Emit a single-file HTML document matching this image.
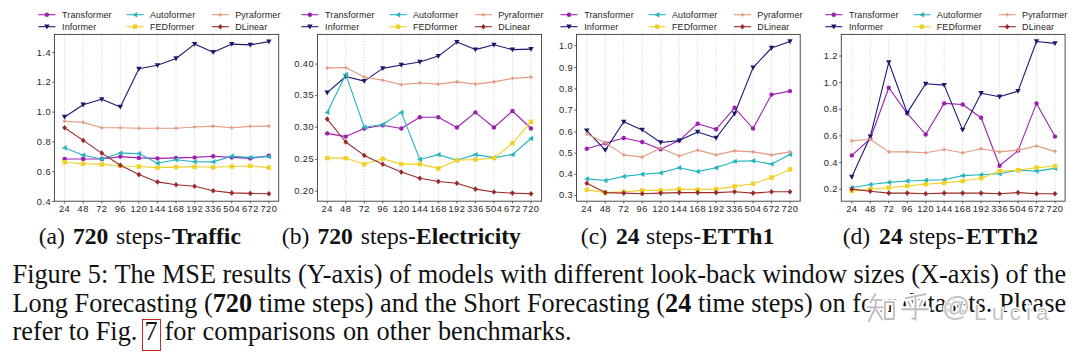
<!DOCTYPE html>
<html><head><meta charset="utf-8">
<style>
html,body{margin:0;padding:0;background:#fff;}
body{width:1077px;height:353px;overflow:hidden;position:relative;}
svg{position:absolute;left:0;top:0;}
.tk{font-family:"Liberation Sans", sans-serif;font-size:9.3px;letter-spacing:0.45px;fill:#262626;}
.lg{font-family:"Liberation Sans", sans-serif;font-size:9px;letter-spacing:0.08px;fill:#262626;}
.sc{font-family:"Liberation Serif",serif;font-size:23.6px;fill:#111;}
.sc.b{font-weight:bold;}
.ln{position:absolute;left:12.5px;width:1053.7px;font-family:"Liberation Serif",serif;font-size:26.3px;line-height:28.9px;height:28.9px;color:#111;white-space:nowrap;}
.j{text-align:justify;text-align-last:justify;white-space:normal;}
.ref{position:absolute;left:141.9px;top:318.9px;width:19.2px;height:32.3px;box-sizing:border-box;border:1.2px solid #d02828;}
</style></head><body>
<svg width="1077" height="353" viewBox="0 0 1077 353">
<line x1="64.60" y1="34.4" x2="64.60" y2="201.2" stroke="#dcdcdc" stroke-width="0.8" stroke-dasharray="2,1.2"/>
<line x1="83.17" y1="34.4" x2="83.17" y2="201.2" stroke="#dcdcdc" stroke-width="0.8" stroke-dasharray="2,1.2"/>
<line x1="101.75" y1="34.4" x2="101.75" y2="201.2" stroke="#dcdcdc" stroke-width="0.8" stroke-dasharray="2,1.2"/>
<line x1="120.32" y1="34.4" x2="120.32" y2="201.2" stroke="#dcdcdc" stroke-width="0.8" stroke-dasharray="2,1.2"/>
<line x1="138.89" y1="34.4" x2="138.89" y2="201.2" stroke="#dcdcdc" stroke-width="0.8" stroke-dasharray="2,1.2"/>
<line x1="157.46" y1="34.4" x2="157.46" y2="201.2" stroke="#dcdcdc" stroke-width="0.8" stroke-dasharray="2,1.2"/>
<line x1="176.04" y1="34.4" x2="176.04" y2="201.2" stroke="#dcdcdc" stroke-width="0.8" stroke-dasharray="2,1.2"/>
<line x1="194.61" y1="34.4" x2="194.61" y2="201.2" stroke="#dcdcdc" stroke-width="0.8" stroke-dasharray="2,1.2"/>
<line x1="213.18" y1="34.4" x2="213.18" y2="201.2" stroke="#dcdcdc" stroke-width="0.8" stroke-dasharray="2,1.2"/>
<line x1="231.75" y1="34.4" x2="231.75" y2="201.2" stroke="#dcdcdc" stroke-width="0.8" stroke-dasharray="2,1.2"/>
<line x1="250.33" y1="34.4" x2="250.33" y2="201.2" stroke="#dcdcdc" stroke-width="0.8" stroke-dasharray="2,1.2"/>
<line x1="268.90" y1="34.4" x2="268.90" y2="201.2" stroke="#dcdcdc" stroke-width="0.8" stroke-dasharray="2,1.2"/>
<polyline points="64.60,159.00 83.17,159.00 101.75,159.00 120.32,156.60 138.89,157.90 157.46,158.40 176.04,157.90 194.61,157.40 213.18,156.30 231.75,157.40 250.33,158.40 268.90,155.80" fill="none" stroke="#9c1fb0" stroke-width="1.1" stroke-linejoin="round"/>
<circle cx="64.60" cy="159.00" r="2.20" fill="#9c1fb0"/>
<circle cx="83.17" cy="159.00" r="2.20" fill="#9c1fb0"/>
<circle cx="101.75" cy="159.00" r="2.20" fill="#9c1fb0"/>
<circle cx="120.32" cy="156.60" r="2.20" fill="#9c1fb0"/>
<circle cx="138.89" cy="157.90" r="2.20" fill="#9c1fb0"/>
<circle cx="157.46" cy="158.40" r="2.20" fill="#9c1fb0"/>
<circle cx="176.04" cy="157.90" r="2.20" fill="#9c1fb0"/>
<circle cx="194.61" cy="157.40" r="2.20" fill="#9c1fb0"/>
<circle cx="213.18" cy="156.30" r="2.20" fill="#9c1fb0"/>
<circle cx="231.75" cy="157.40" r="2.20" fill="#9c1fb0"/>
<circle cx="250.33" cy="158.40" r="2.20" fill="#9c1fb0"/>
<circle cx="268.90" cy="155.80" r="2.20" fill="#9c1fb0"/>
<polyline points="64.60,117.00 83.17,104.70 101.75,99.30 120.32,106.90 138.89,68.80 157.46,65.30 176.04,58.50 194.61,44.10 213.18,52.20 231.75,44.10 250.33,44.90 268.90,41.60" fill="none" stroke="#191970" stroke-width="1.1" stroke-linejoin="round"/>
<path d="M61.90,114.84L67.30,114.84L64.60,119.70Z" fill="#191970"/>
<path d="M80.47,102.54L85.87,102.54L83.17,107.40Z" fill="#191970"/>
<path d="M99.05,97.14L104.45,97.14L101.75,102.00Z" fill="#191970"/>
<path d="M117.62,104.74L123.02,104.74L120.32,109.60Z" fill="#191970"/>
<path d="M136.19,66.64L141.59,66.64L138.89,71.50Z" fill="#191970"/>
<path d="M154.76,63.14L160.16,63.14L157.46,68.00Z" fill="#191970"/>
<path d="M173.34,56.34L178.74,56.34L176.04,61.20Z" fill="#191970"/>
<path d="M191.91,41.94L197.31,41.94L194.61,46.80Z" fill="#191970"/>
<path d="M210.48,50.04L215.88,50.04L213.18,54.90Z" fill="#191970"/>
<path d="M229.05,41.94L234.45,41.94L231.75,46.80Z" fill="#191970"/>
<path d="M247.63,42.74L253.03,42.74L250.33,47.60Z" fill="#191970"/>
<path d="M266.20,39.44L271.60,39.44L268.90,44.30Z" fill="#191970"/>
<polyline points="64.60,147.70 83.17,155.20 101.75,159.00 120.32,153.10 138.89,153.60 157.46,163.30 176.04,159.80 194.61,161.70 213.18,161.90 231.75,156.30 250.33,157.40 268.90,156.60" fill="none" stroke="#24b3bf" stroke-width="1.1" stroke-linejoin="round"/>
<path d="M61.90,147.70L66.76,145.00L66.76,150.40Z" fill="#24b3bf"/>
<path d="M80.47,155.20L85.33,152.50L85.33,157.90Z" fill="#24b3bf"/>
<path d="M99.05,159.00L103.91,156.30L103.91,161.70Z" fill="#24b3bf"/>
<path d="M117.62,153.10L122.48,150.40L122.48,155.80Z" fill="#24b3bf"/>
<path d="M136.19,153.60L141.05,150.90L141.05,156.30Z" fill="#24b3bf"/>
<path d="M154.76,163.30L159.62,160.60L159.62,166.00Z" fill="#24b3bf"/>
<path d="M173.34,159.80L178.20,157.10L178.20,162.50Z" fill="#24b3bf"/>
<path d="M191.91,161.70L196.77,159.00L196.77,164.40Z" fill="#24b3bf"/>
<path d="M210.48,161.90L215.34,159.20L215.34,164.60Z" fill="#24b3bf"/>
<path d="M229.05,156.30L233.91,153.60L233.91,159.00Z" fill="#24b3bf"/>
<path d="M247.63,157.40L252.49,154.70L252.49,160.10Z" fill="#24b3bf"/>
<path d="M266.20,156.60L271.06,153.90L271.06,159.30Z" fill="#24b3bf"/>
<polyline points="64.60,162.20 83.17,163.80 101.75,164.40 120.32,166.00 138.89,166.50 157.46,167.60 176.04,167.10 194.61,166.80 213.18,167.30 231.75,166.50 250.33,166.00 268.90,167.60" fill="none" stroke="#f2d024" stroke-width="1.1" stroke-linejoin="round"/>
<rect x="62.40" y="160.00" width="4.40" height="4.40" fill="#f2d024"/>
<rect x="80.97" y="161.60" width="4.40" height="4.40" fill="#f2d024"/>
<rect x="99.55" y="162.20" width="4.40" height="4.40" fill="#f2d024"/>
<rect x="118.12" y="163.80" width="4.40" height="4.40" fill="#f2d024"/>
<rect x="136.69" y="164.30" width="4.40" height="4.40" fill="#f2d024"/>
<rect x="155.26" y="165.40" width="4.40" height="4.40" fill="#f2d024"/>
<rect x="173.84" y="164.90" width="4.40" height="4.40" fill="#f2d024"/>
<rect x="192.41" y="164.60" width="4.40" height="4.40" fill="#f2d024"/>
<rect x="210.98" y="165.10" width="4.40" height="4.40" fill="#f2d024"/>
<rect x="229.55" y="164.30" width="4.40" height="4.40" fill="#f2d024"/>
<rect x="248.13" y="163.80" width="4.40" height="4.40" fill="#f2d024"/>
<rect x="266.70" y="165.40" width="4.40" height="4.40" fill="#f2d024"/>
<polyline points="64.60,121.30 83.17,122.40 101.75,127.80 120.32,127.80 138.89,128.30 157.46,128.30 176.04,128.30 194.61,127.00 213.18,126.10 231.75,127.80 250.33,126.40 268.90,126.10" fill="none" stroke="#e39a80" stroke-width="1.1" stroke-linejoin="round"/>
<path d="M62.80,121.30H66.40M64.60,119.50V123.10" stroke="#e39a80" stroke-width="1.4"/>
<path d="M81.37,122.40H84.97M83.17,120.60V124.20" stroke="#e39a80" stroke-width="1.4"/>
<path d="M99.95,127.80H103.55M101.75,126.00V129.60" stroke="#e39a80" stroke-width="1.4"/>
<path d="M118.52,127.80H122.12M120.32,126.00V129.60" stroke="#e39a80" stroke-width="1.4"/>
<path d="M137.09,128.30H140.69M138.89,126.50V130.10" stroke="#e39a80" stroke-width="1.4"/>
<path d="M155.66,128.30H159.26M157.46,126.50V130.10" stroke="#e39a80" stroke-width="1.4"/>
<path d="M174.24,128.30H177.84M176.04,126.50V130.10" stroke="#e39a80" stroke-width="1.4"/>
<path d="M192.81,127.00H196.41M194.61,125.20V128.80" stroke="#e39a80" stroke-width="1.4"/>
<path d="M211.38,126.10H214.98M213.18,124.30V127.90" stroke="#e39a80" stroke-width="1.4"/>
<path d="M229.95,127.80H233.55M231.75,126.00V129.60" stroke="#e39a80" stroke-width="1.4"/>
<path d="M248.53,126.40H252.13M250.33,124.60V128.20" stroke="#e39a80" stroke-width="1.4"/>
<path d="M267.10,126.10H270.70M268.90,124.30V127.90" stroke="#e39a80" stroke-width="1.4"/>
<polyline points="64.60,127.80 83.17,140.40 101.75,153.10 120.32,165.20 138.89,174.60 157.46,181.90 176.04,184.80 194.61,186.20 213.18,190.70 231.75,192.90 250.33,193.40 268.90,193.70" fill="none" stroke="#9a2a2a" stroke-width="1.1" stroke-linejoin="round"/>
<path d="M64.60,125.00L66.98,127.80L64.60,130.60L62.22,127.80Z" fill="#9a2a2a"/>
<path d="M83.17,137.60L85.55,140.40L83.17,143.20L80.79,140.40Z" fill="#9a2a2a"/>
<path d="M101.75,150.30L104.13,153.10L101.75,155.90L99.37,153.10Z" fill="#9a2a2a"/>
<path d="M120.32,162.40L122.70,165.20L120.32,168.00L117.94,165.20Z" fill="#9a2a2a"/>
<path d="M138.89,171.80L141.27,174.60L138.89,177.40L136.51,174.60Z" fill="#9a2a2a"/>
<path d="M157.46,179.10L159.84,181.90L157.46,184.70L155.08,181.90Z" fill="#9a2a2a"/>
<path d="M176.04,182.00L178.42,184.80L176.04,187.60L173.66,184.80Z" fill="#9a2a2a"/>
<path d="M194.61,183.40L196.99,186.20L194.61,189.00L192.23,186.20Z" fill="#9a2a2a"/>
<path d="M213.18,187.90L215.56,190.70L213.18,193.50L210.80,190.70Z" fill="#9a2a2a"/>
<path d="M231.75,190.10L234.13,192.90L231.75,195.70L229.37,192.90Z" fill="#9a2a2a"/>
<path d="M250.33,190.60L252.71,193.40L250.33,196.20L247.95,193.40Z" fill="#9a2a2a"/>
<path d="M268.90,190.90L271.28,193.70L268.90,196.50L266.52,193.70Z" fill="#9a2a2a"/>
<rect x="54.4" y="34.4" width="224.30" height="166.80" fill="none" stroke="#3a3a3a" stroke-width="0.9"/>
<line x1="64.60" y1="201.2" x2="64.60" y2="203.39999999999998" stroke="#3a3a3a" stroke-width="0.8"/>
<text x="64.60" y="211.80" text-anchor="middle" class="tk">24</text>
<line x1="83.17" y1="201.2" x2="83.17" y2="203.39999999999998" stroke="#3a3a3a" stroke-width="0.8"/>
<text x="83.17" y="211.80" text-anchor="middle" class="tk">48</text>
<line x1="101.75" y1="201.2" x2="101.75" y2="203.39999999999998" stroke="#3a3a3a" stroke-width="0.8"/>
<text x="101.75" y="211.80" text-anchor="middle" class="tk">72</text>
<line x1="120.32" y1="201.2" x2="120.32" y2="203.39999999999998" stroke="#3a3a3a" stroke-width="0.8"/>
<text x="120.32" y="211.80" text-anchor="middle" class="tk">96</text>
<line x1="138.89" y1="201.2" x2="138.89" y2="203.39999999999998" stroke="#3a3a3a" stroke-width="0.8"/>
<text x="138.89" y="211.80" text-anchor="middle" class="tk">120</text>
<line x1="157.46" y1="201.2" x2="157.46" y2="203.39999999999998" stroke="#3a3a3a" stroke-width="0.8"/>
<text x="157.46" y="211.80" text-anchor="middle" class="tk">144</text>
<line x1="176.04" y1="201.2" x2="176.04" y2="203.39999999999998" stroke="#3a3a3a" stroke-width="0.8"/>
<text x="176.04" y="211.80" text-anchor="middle" class="tk">168</text>
<line x1="194.61" y1="201.2" x2="194.61" y2="203.39999999999998" stroke="#3a3a3a" stroke-width="0.8"/>
<text x="194.61" y="211.80" text-anchor="middle" class="tk">192</text>
<line x1="213.18" y1="201.2" x2="213.18" y2="203.39999999999998" stroke="#3a3a3a" stroke-width="0.8"/>
<text x="213.18" y="211.80" text-anchor="middle" class="tk">336</text>
<line x1="231.75" y1="201.2" x2="231.75" y2="203.39999999999998" stroke="#3a3a3a" stroke-width="0.8"/>
<text x="231.75" y="211.80" text-anchor="middle" class="tk">504</text>
<line x1="250.33" y1="201.2" x2="250.33" y2="203.39999999999998" stroke="#3a3a3a" stroke-width="0.8"/>
<text x="250.33" y="211.80" text-anchor="middle" class="tk">672</text>
<line x1="268.90" y1="201.2" x2="268.90" y2="203.39999999999998" stroke="#3a3a3a" stroke-width="0.8"/>
<text x="268.90" y="211.80" text-anchor="middle" class="tk">720</text>
<line x1="52.199999999999996" y1="201.5" x2="54.4" y2="201.5" stroke="#3a3a3a" stroke-width="0.8"/>
<text x="51.10" y="204.50" text-anchor="end" class="tk">0.4</text>
<line x1="52.199999999999996" y1="171.7" x2="54.4" y2="171.7" stroke="#3a3a3a" stroke-width="0.8"/>
<text x="51.10" y="174.70" text-anchor="end" class="tk">0.6</text>
<line x1="52.199999999999996" y1="141.9" x2="54.4" y2="141.9" stroke="#3a3a3a" stroke-width="0.8"/>
<text x="51.10" y="144.90" text-anchor="end" class="tk">0.8</text>
<line x1="52.199999999999996" y1="112.1" x2="54.4" y2="112.1" stroke="#3a3a3a" stroke-width="0.8"/>
<text x="51.10" y="115.10" text-anchor="end" class="tk">1.0</text>
<line x1="52.199999999999996" y1="82.3" x2="54.4" y2="82.3" stroke="#3a3a3a" stroke-width="0.8"/>
<text x="51.10" y="85.30" text-anchor="end" class="tk">1.2</text>
<line x1="52.199999999999996" y1="52.5" x2="54.4" y2="52.5" stroke="#3a3a3a" stroke-width="0.8"/>
<text x="51.10" y="55.50" text-anchor="end" class="tk">1.4</text>
<line x1="38.40" y1="14.7" x2="55.40" y2="14.7" stroke="#9c1fb0" stroke-width="1.1"/>
<circle cx="46.90" cy="14.70" r="2.20" fill="#9c1fb0"/>
<text x="62.10" y="17.70" class="lg">Transformer</text>
<line x1="126.60" y1="14.7" x2="143.60" y2="14.7" stroke="#24b3bf" stroke-width="1.1"/>
<path d="M132.40,14.70L137.26,12.00L137.26,17.40Z" fill="#24b3bf"/>
<text x="149.90" y="17.70" class="lg">Autoformer</text>
<line x1="211.80" y1="14.7" x2="228.90" y2="14.7" stroke="#e39a80" stroke-width="1.1"/>
<path d="M218.55,14.70H222.15M220.35,12.90V16.50" stroke="#e39a80" stroke-width="1.4"/>
<text x="235.20" y="17.70" class="lg">Pyraformer</text>
<line x1="38.40" y1="26.7" x2="55.40" y2="26.7" stroke="#191970" stroke-width="1.1"/>
<path d="M44.20,24.54L49.60,24.54L46.90,29.40Z" fill="#191970"/>
<text x="62.10" y="29.70" class="lg">Informer</text>
<line x1="126.60" y1="26.7" x2="143.60" y2="26.7" stroke="#f2d024" stroke-width="1.1"/>
<rect x="132.90" y="24.50" width="4.40" height="4.40" fill="#f2d024"/>
<text x="149.90" y="29.70" class="lg">FEDformer</text>
<line x1="211.80" y1="26.7" x2="228.90" y2="26.7" stroke="#9a2a2a" stroke-width="1.1"/>
<path d="M220.35,23.90L222.73,26.70L220.35,29.50L217.97,26.70Z" fill="#9a2a2a"/>
<text x="235.20" y="29.70" class="lg">DLinear</text>
<line x1="327.20" y1="34.4" x2="327.20" y2="201.2" stroke="#dcdcdc" stroke-width="0.8" stroke-dasharray="2,1.2"/>
<line x1="345.73" y1="34.4" x2="345.73" y2="201.2" stroke="#dcdcdc" stroke-width="0.8" stroke-dasharray="2,1.2"/>
<line x1="364.25" y1="34.4" x2="364.25" y2="201.2" stroke="#dcdcdc" stroke-width="0.8" stroke-dasharray="2,1.2"/>
<line x1="382.78" y1="34.4" x2="382.78" y2="201.2" stroke="#dcdcdc" stroke-width="0.8" stroke-dasharray="2,1.2"/>
<line x1="401.31" y1="34.4" x2="401.31" y2="201.2" stroke="#dcdcdc" stroke-width="0.8" stroke-dasharray="2,1.2"/>
<line x1="419.84" y1="34.4" x2="419.84" y2="201.2" stroke="#dcdcdc" stroke-width="0.8" stroke-dasharray="2,1.2"/>
<line x1="438.36" y1="34.4" x2="438.36" y2="201.2" stroke="#dcdcdc" stroke-width="0.8" stroke-dasharray="2,1.2"/>
<line x1="456.89" y1="34.4" x2="456.89" y2="201.2" stroke="#dcdcdc" stroke-width="0.8" stroke-dasharray="2,1.2"/>
<line x1="475.42" y1="34.4" x2="475.42" y2="201.2" stroke="#dcdcdc" stroke-width="0.8" stroke-dasharray="2,1.2"/>
<line x1="493.95" y1="34.4" x2="493.95" y2="201.2" stroke="#dcdcdc" stroke-width="0.8" stroke-dasharray="2,1.2"/>
<line x1="512.47" y1="34.4" x2="512.47" y2="201.2" stroke="#dcdcdc" stroke-width="0.8" stroke-dasharray="2,1.2"/>
<line x1="531.00" y1="34.4" x2="531.00" y2="201.2" stroke="#dcdcdc" stroke-width="0.8" stroke-dasharray="2,1.2"/>
<polyline points="327.20,133.40 345.73,136.60 364.25,128.50 382.78,125.30 401.31,128.50 419.84,117.20 438.36,117.20 456.89,127.50 475.42,112.40 493.95,127.50 512.47,111.00 531.00,128.50" fill="none" stroke="#9c1fb0" stroke-width="1.1" stroke-linejoin="round"/>
<circle cx="327.20" cy="133.40" r="2.20" fill="#9c1fb0"/>
<circle cx="345.73" cy="136.60" r="2.20" fill="#9c1fb0"/>
<circle cx="364.25" cy="128.50" r="2.20" fill="#9c1fb0"/>
<circle cx="382.78" cy="125.30" r="2.20" fill="#9c1fb0"/>
<circle cx="401.31" cy="128.50" r="2.20" fill="#9c1fb0"/>
<circle cx="419.84" cy="117.20" r="2.20" fill="#9c1fb0"/>
<circle cx="438.36" cy="117.20" r="2.20" fill="#9c1fb0"/>
<circle cx="456.89" cy="127.50" r="2.20" fill="#9c1fb0"/>
<circle cx="475.42" cy="112.40" r="2.20" fill="#9c1fb0"/>
<circle cx="493.95" cy="127.50" r="2.20" fill="#9c1fb0"/>
<circle cx="512.47" cy="111.00" r="2.20" fill="#9c1fb0"/>
<circle cx="531.00" cy="128.50" r="2.20" fill="#9c1fb0"/>
<polyline points="327.20,92.70 345.73,76.50 364.25,81.10 382.78,68.40 401.31,65.00 419.84,62.00 438.36,56.10 456.89,42.10 475.42,49.60 493.95,44.80 512.47,49.60 531.00,49.10" fill="none" stroke="#191970" stroke-width="1.1" stroke-linejoin="round"/>
<path d="M324.50,90.54L329.90,90.54L327.20,95.40Z" fill="#191970"/>
<path d="M343.03,74.34L348.43,74.34L345.73,79.20Z" fill="#191970"/>
<path d="M361.55,78.94L366.95,78.94L364.25,83.80Z" fill="#191970"/>
<path d="M380.08,66.24L385.48,66.24L382.78,71.10Z" fill="#191970"/>
<path d="M398.61,62.84L404.01,62.84L401.31,67.70Z" fill="#191970"/>
<path d="M417.14,59.84L422.54,59.84L419.84,64.70Z" fill="#191970"/>
<path d="M435.66,53.94L441.06,53.94L438.36,58.80Z" fill="#191970"/>
<path d="M454.19,39.94L459.59,39.94L456.89,44.80Z" fill="#191970"/>
<path d="M472.72,47.44L478.12,47.44L475.42,52.30Z" fill="#191970"/>
<path d="M491.25,42.64L496.65,42.64L493.95,47.50Z" fill="#191970"/>
<path d="M509.77,47.44L515.17,47.44L512.47,52.30Z" fill="#191970"/>
<path d="M528.30,46.94L533.70,46.94L531.00,51.80Z" fill="#191970"/>
<polyline points="327.20,112.40 345.73,74.40 364.25,127.20 382.78,124.50 401.31,112.40 419.84,159.50 438.36,154.60 456.89,160.30 475.42,154.60 493.95,157.60 512.47,154.60 531.00,138.50" fill="none" stroke="#24b3bf" stroke-width="1.1" stroke-linejoin="round"/>
<path d="M324.50,112.40L329.36,109.70L329.36,115.10Z" fill="#24b3bf"/>
<path d="M343.03,74.40L347.89,71.70L347.89,77.10Z" fill="#24b3bf"/>
<path d="M361.55,127.20L366.41,124.50L366.41,129.90Z" fill="#24b3bf"/>
<path d="M380.08,124.50L384.94,121.80L384.94,127.20Z" fill="#24b3bf"/>
<path d="M398.61,112.40L403.47,109.70L403.47,115.10Z" fill="#24b3bf"/>
<path d="M417.14,159.50L422.00,156.80L422.00,162.20Z" fill="#24b3bf"/>
<path d="M435.66,154.60L440.52,151.90L440.52,157.30Z" fill="#24b3bf"/>
<path d="M454.19,160.30L459.05,157.60L459.05,163.00Z" fill="#24b3bf"/>
<path d="M472.72,154.60L477.58,151.90L477.58,157.30Z" fill="#24b3bf"/>
<path d="M491.25,157.60L496.11,154.90L496.11,160.30Z" fill="#24b3bf"/>
<path d="M509.77,154.60L514.63,151.90L514.63,157.30Z" fill="#24b3bf"/>
<path d="M528.30,138.50L533.16,135.80L533.16,141.20Z" fill="#24b3bf"/>
<polyline points="327.20,158.10 345.73,158.10 364.25,164.30 382.78,158.70 401.31,164.10 419.84,164.10 438.36,168.40 456.89,160.30 475.42,159.50 493.95,158.10 512.47,143.30 531.00,121.80" fill="none" stroke="#f2d024" stroke-width="1.1" stroke-linejoin="round"/>
<rect x="325.00" y="155.90" width="4.40" height="4.40" fill="#f2d024"/>
<rect x="343.53" y="155.90" width="4.40" height="4.40" fill="#f2d024"/>
<rect x="362.05" y="162.10" width="4.40" height="4.40" fill="#f2d024"/>
<rect x="380.58" y="156.50" width="4.40" height="4.40" fill="#f2d024"/>
<rect x="399.11" y="161.90" width="4.40" height="4.40" fill="#f2d024"/>
<rect x="417.64" y="161.90" width="4.40" height="4.40" fill="#f2d024"/>
<rect x="436.16" y="166.20" width="4.40" height="4.40" fill="#f2d024"/>
<rect x="454.69" y="158.10" width="4.40" height="4.40" fill="#f2d024"/>
<rect x="473.22" y="157.30" width="4.40" height="4.40" fill="#f2d024"/>
<rect x="491.75" y="155.90" width="4.40" height="4.40" fill="#f2d024"/>
<rect x="510.27" y="141.10" width="4.40" height="4.40" fill="#f2d024"/>
<rect x="528.80" y="119.60" width="4.40" height="4.40" fill="#f2d024"/>
<polyline points="327.20,67.90 345.73,67.60 364.25,77.10 382.78,80.30 401.31,84.60 419.84,83.00 438.36,84.10 456.89,81.90 475.42,84.10 493.95,81.90 512.47,78.40 531.00,77.10" fill="none" stroke="#e39a80" stroke-width="1.1" stroke-linejoin="round"/>
<path d="M325.40,67.90H329.00M327.20,66.10V69.70" stroke="#e39a80" stroke-width="1.4"/>
<path d="M343.93,67.60H347.53M345.73,65.80V69.40" stroke="#e39a80" stroke-width="1.4"/>
<path d="M362.45,77.10H366.05M364.25,75.30V78.90" stroke="#e39a80" stroke-width="1.4"/>
<path d="M380.98,80.30H384.58M382.78,78.50V82.10" stroke="#e39a80" stroke-width="1.4"/>
<path d="M399.51,84.60H403.11M401.31,82.80V86.40" stroke="#e39a80" stroke-width="1.4"/>
<path d="M418.04,83.00H421.64M419.84,81.20V84.80" stroke="#e39a80" stroke-width="1.4"/>
<path d="M436.56,84.10H440.16M438.36,82.30V85.90" stroke="#e39a80" stroke-width="1.4"/>
<path d="M455.09,81.90H458.69M456.89,80.10V83.70" stroke="#e39a80" stroke-width="1.4"/>
<path d="M473.62,84.10H477.22M475.42,82.30V85.90" stroke="#e39a80" stroke-width="1.4"/>
<path d="M492.15,81.90H495.75M493.95,80.10V83.70" stroke="#e39a80" stroke-width="1.4"/>
<path d="M510.67,78.40H514.27M512.47,76.60V80.20" stroke="#e39a80" stroke-width="1.4"/>
<path d="M529.20,77.10H532.80M531.00,75.30V78.90" stroke="#e39a80" stroke-width="1.4"/>
<polyline points="327.20,119.10 345.73,142.00 364.25,155.40 382.78,164.30 401.31,172.10 419.84,178.30 438.36,181.50 456.89,183.20 475.42,189.10 493.95,192.00 512.47,193.10 531.00,193.70" fill="none" stroke="#9a2a2a" stroke-width="1.1" stroke-linejoin="round"/>
<path d="M327.20,116.30L329.58,119.10L327.20,121.90L324.82,119.10Z" fill="#9a2a2a"/>
<path d="M345.73,139.20L348.11,142.00L345.73,144.80L343.35,142.00Z" fill="#9a2a2a"/>
<path d="M364.25,152.60L366.63,155.40L364.25,158.20L361.87,155.40Z" fill="#9a2a2a"/>
<path d="M382.78,161.50L385.16,164.30L382.78,167.10L380.40,164.30Z" fill="#9a2a2a"/>
<path d="M401.31,169.30L403.69,172.10L401.31,174.90L398.93,172.10Z" fill="#9a2a2a"/>
<path d="M419.84,175.50L422.22,178.30L419.84,181.10L417.46,178.30Z" fill="#9a2a2a"/>
<path d="M438.36,178.70L440.74,181.50L438.36,184.30L435.98,181.50Z" fill="#9a2a2a"/>
<path d="M456.89,180.40L459.27,183.20L456.89,186.00L454.51,183.20Z" fill="#9a2a2a"/>
<path d="M475.42,186.30L477.80,189.10L475.42,191.90L473.04,189.10Z" fill="#9a2a2a"/>
<path d="M493.95,189.20L496.33,192.00L493.95,194.80L491.57,192.00Z" fill="#9a2a2a"/>
<path d="M512.47,190.30L514.85,193.10L512.47,195.90L510.09,193.10Z" fill="#9a2a2a"/>
<path d="M531.00,190.90L533.38,193.70L531.00,196.50L528.62,193.70Z" fill="#9a2a2a"/>
<rect x="317.4" y="34.4" width="224.20" height="166.80" fill="none" stroke="#3a3a3a" stroke-width="0.9"/>
<line x1="327.20" y1="201.2" x2="327.20" y2="203.39999999999998" stroke="#3a3a3a" stroke-width="0.8"/>
<text x="327.20" y="211.80" text-anchor="middle" class="tk">24</text>
<line x1="345.73" y1="201.2" x2="345.73" y2="203.39999999999998" stroke="#3a3a3a" stroke-width="0.8"/>
<text x="345.73" y="211.80" text-anchor="middle" class="tk">48</text>
<line x1="364.25" y1="201.2" x2="364.25" y2="203.39999999999998" stroke="#3a3a3a" stroke-width="0.8"/>
<text x="364.25" y="211.80" text-anchor="middle" class="tk">72</text>
<line x1="382.78" y1="201.2" x2="382.78" y2="203.39999999999998" stroke="#3a3a3a" stroke-width="0.8"/>
<text x="382.78" y="211.80" text-anchor="middle" class="tk">96</text>
<line x1="401.31" y1="201.2" x2="401.31" y2="203.39999999999998" stroke="#3a3a3a" stroke-width="0.8"/>
<text x="401.31" y="211.80" text-anchor="middle" class="tk">120</text>
<line x1="419.84" y1="201.2" x2="419.84" y2="203.39999999999998" stroke="#3a3a3a" stroke-width="0.8"/>
<text x="419.84" y="211.80" text-anchor="middle" class="tk">144</text>
<line x1="438.36" y1="201.2" x2="438.36" y2="203.39999999999998" stroke="#3a3a3a" stroke-width="0.8"/>
<text x="438.36" y="211.80" text-anchor="middle" class="tk">168</text>
<line x1="456.89" y1="201.2" x2="456.89" y2="203.39999999999998" stroke="#3a3a3a" stroke-width="0.8"/>
<text x="456.89" y="211.80" text-anchor="middle" class="tk">192</text>
<line x1="475.42" y1="201.2" x2="475.42" y2="203.39999999999998" stroke="#3a3a3a" stroke-width="0.8"/>
<text x="475.42" y="211.80" text-anchor="middle" class="tk">336</text>
<line x1="493.95" y1="201.2" x2="493.95" y2="203.39999999999998" stroke="#3a3a3a" stroke-width="0.8"/>
<text x="493.95" y="211.80" text-anchor="middle" class="tk">504</text>
<line x1="512.47" y1="201.2" x2="512.47" y2="203.39999999999998" stroke="#3a3a3a" stroke-width="0.8"/>
<text x="512.47" y="211.80" text-anchor="middle" class="tk">672</text>
<line x1="531.00" y1="201.2" x2="531.00" y2="203.39999999999998" stroke="#3a3a3a" stroke-width="0.8"/>
<text x="531.00" y="211.80" text-anchor="middle" class="tk">720</text>
<line x1="315.2" y1="191.2" x2="317.4" y2="191.2" stroke="#3a3a3a" stroke-width="0.8"/>
<text x="314.10" y="194.20" text-anchor="end" class="tk">0.20</text>
<line x1="315.2" y1="159.4" x2="317.4" y2="159.4" stroke="#3a3a3a" stroke-width="0.8"/>
<text x="314.10" y="162.40" text-anchor="end" class="tk">0.25</text>
<line x1="315.2" y1="127.2" x2="317.4" y2="127.2" stroke="#3a3a3a" stroke-width="0.8"/>
<text x="314.10" y="130.20" text-anchor="end" class="tk">0.30</text>
<line x1="315.2" y1="95.4" x2="317.4" y2="95.4" stroke="#3a3a3a" stroke-width="0.8"/>
<text x="314.10" y="98.40" text-anchor="end" class="tk">0.35</text>
<line x1="315.2" y1="64.1" x2="317.4" y2="64.1" stroke="#3a3a3a" stroke-width="0.8"/>
<text x="314.10" y="67.10" text-anchor="end" class="tk">0.40</text>
<line x1="301.40" y1="14.7" x2="318.40" y2="14.7" stroke="#9c1fb0" stroke-width="1.1"/>
<circle cx="309.90" cy="14.70" r="2.20" fill="#9c1fb0"/>
<text x="325.10" y="17.70" class="lg">Transformer</text>
<line x1="389.60" y1="14.7" x2="406.60" y2="14.7" stroke="#24b3bf" stroke-width="1.1"/>
<path d="M395.40,14.70L400.26,12.00L400.26,17.40Z" fill="#24b3bf"/>
<text x="412.90" y="17.70" class="lg">Autoformer</text>
<line x1="474.80" y1="14.7" x2="491.90" y2="14.7" stroke="#e39a80" stroke-width="1.1"/>
<path d="M481.55,14.70H485.15M483.35,12.90V16.50" stroke="#e39a80" stroke-width="1.4"/>
<text x="498.20" y="17.70" class="lg">Pyraformer</text>
<line x1="301.40" y1="26.7" x2="318.40" y2="26.7" stroke="#191970" stroke-width="1.1"/>
<path d="M307.20,24.54L312.60,24.54L309.90,29.40Z" fill="#191970"/>
<text x="325.10" y="29.70" class="lg">Informer</text>
<line x1="389.60" y1="26.7" x2="406.60" y2="26.7" stroke="#f2d024" stroke-width="1.1"/>
<rect x="395.90" y="24.50" width="4.40" height="4.40" fill="#f2d024"/>
<text x="412.90" y="29.70" class="lg">FEDformer</text>
<line x1="474.80" y1="26.7" x2="491.90" y2="26.7" stroke="#9a2a2a" stroke-width="1.1"/>
<path d="M483.35,23.90L485.73,26.70L483.35,29.50L480.97,26.70Z" fill="#9a2a2a"/>
<text x="498.20" y="29.70" class="lg">DLinear</text>
<line x1="586.80" y1="34.4" x2="586.80" y2="201.2" stroke="#dcdcdc" stroke-width="0.8" stroke-dasharray="2,1.2"/>
<line x1="605.27" y1="34.4" x2="605.27" y2="201.2" stroke="#dcdcdc" stroke-width="0.8" stroke-dasharray="2,1.2"/>
<line x1="623.75" y1="34.4" x2="623.75" y2="201.2" stroke="#dcdcdc" stroke-width="0.8" stroke-dasharray="2,1.2"/>
<line x1="642.22" y1="34.4" x2="642.22" y2="201.2" stroke="#dcdcdc" stroke-width="0.8" stroke-dasharray="2,1.2"/>
<line x1="660.69" y1="34.4" x2="660.69" y2="201.2" stroke="#dcdcdc" stroke-width="0.8" stroke-dasharray="2,1.2"/>
<line x1="679.16" y1="34.4" x2="679.16" y2="201.2" stroke="#dcdcdc" stroke-width="0.8" stroke-dasharray="2,1.2"/>
<line x1="697.64" y1="34.4" x2="697.64" y2="201.2" stroke="#dcdcdc" stroke-width="0.8" stroke-dasharray="2,1.2"/>
<line x1="716.11" y1="34.4" x2="716.11" y2="201.2" stroke="#dcdcdc" stroke-width="0.8" stroke-dasharray="2,1.2"/>
<line x1="734.58" y1="34.4" x2="734.58" y2="201.2" stroke="#dcdcdc" stroke-width="0.8" stroke-dasharray="2,1.2"/>
<line x1="753.05" y1="34.4" x2="753.05" y2="201.2" stroke="#dcdcdc" stroke-width="0.8" stroke-dasharray="2,1.2"/>
<line x1="771.53" y1="34.4" x2="771.53" y2="201.2" stroke="#dcdcdc" stroke-width="0.8" stroke-dasharray="2,1.2"/>
<line x1="790.00" y1="34.4" x2="790.00" y2="201.2" stroke="#dcdcdc" stroke-width="0.8" stroke-dasharray="2,1.2"/>
<polyline points="586.80,148.70 605.27,143.30 623.75,138.00 642.22,142.00 660.69,149.30 679.16,140.60 697.64,123.70 716.11,129.30 734.58,107.80 753.05,128.50 771.53,94.60 790.00,91.10" fill="none" stroke="#9c1fb0" stroke-width="1.1" stroke-linejoin="round"/>
<circle cx="586.80" cy="148.70" r="2.20" fill="#9c1fb0"/>
<circle cx="605.27" cy="143.30" r="2.20" fill="#9c1fb0"/>
<circle cx="623.75" cy="138.00" r="2.20" fill="#9c1fb0"/>
<circle cx="642.22" cy="142.00" r="2.20" fill="#9c1fb0"/>
<circle cx="660.69" cy="149.30" r="2.20" fill="#9c1fb0"/>
<circle cx="679.16" cy="140.60" r="2.20" fill="#9c1fb0"/>
<circle cx="697.64" cy="123.70" r="2.20" fill="#9c1fb0"/>
<circle cx="716.11" cy="129.30" r="2.20" fill="#9c1fb0"/>
<circle cx="734.58" cy="107.80" r="2.20" fill="#9c1fb0"/>
<circle cx="753.05" cy="128.50" r="2.20" fill="#9c1fb0"/>
<circle cx="771.53" cy="94.60" r="2.20" fill="#9c1fb0"/>
<circle cx="790.00" cy="91.10" r="2.20" fill="#9c1fb0"/>
<polyline points="586.80,130.70 605.27,150.10 623.75,121.80 642.22,129.90 660.69,142.50 679.16,140.60 697.64,132.00 716.11,138.00 734.58,113.70 753.05,67.60 771.53,48.00 790.00,41.50" fill="none" stroke="#191970" stroke-width="1.1" stroke-linejoin="round"/>
<path d="M584.10,128.54L589.50,128.54L586.80,133.40Z" fill="#191970"/>
<path d="M602.57,147.94L607.97,147.94L605.27,152.80Z" fill="#191970"/>
<path d="M621.05,119.64L626.45,119.64L623.75,124.50Z" fill="#191970"/>
<path d="M639.52,127.74L644.92,127.74L642.22,132.60Z" fill="#191970"/>
<path d="M657.99,140.34L663.39,140.34L660.69,145.20Z" fill="#191970"/>
<path d="M676.46,138.44L681.86,138.44L679.16,143.30Z" fill="#191970"/>
<path d="M694.94,129.84L700.34,129.84L697.64,134.70Z" fill="#191970"/>
<path d="M713.41,135.84L718.81,135.84L716.11,140.70Z" fill="#191970"/>
<path d="M731.88,111.54L737.28,111.54L734.58,116.40Z" fill="#191970"/>
<path d="M750.35,65.44L755.75,65.44L753.05,70.30Z" fill="#191970"/>
<path d="M768.83,45.84L774.23,45.84L771.53,50.70Z" fill="#191970"/>
<path d="M787.30,39.34L792.70,39.34L790.00,44.20Z" fill="#191970"/>
<polyline points="586.80,178.90 605.27,180.50 623.75,176.40 642.22,174.30 660.69,172.90 679.16,167.80 697.64,171.60 716.11,167.80 734.58,161.40 753.05,160.80 771.53,164.10 790.00,154.40" fill="none" stroke="#24b3bf" stroke-width="1.1" stroke-linejoin="round"/>
<path d="M584.10,178.90L588.96,176.20L588.96,181.60Z" fill="#24b3bf"/>
<path d="M602.57,180.50L607.43,177.80L607.43,183.20Z" fill="#24b3bf"/>
<path d="M621.05,176.40L625.91,173.70L625.91,179.10Z" fill="#24b3bf"/>
<path d="M639.52,174.30L644.38,171.60L644.38,177.00Z" fill="#24b3bf"/>
<path d="M657.99,172.90L662.85,170.20L662.85,175.60Z" fill="#24b3bf"/>
<path d="M676.46,167.80L681.32,165.10L681.32,170.50Z" fill="#24b3bf"/>
<path d="M694.94,171.60L699.80,168.90L699.80,174.30Z" fill="#24b3bf"/>
<path d="M713.41,167.80L718.27,165.10L718.27,170.50Z" fill="#24b3bf"/>
<path d="M731.88,161.40L736.74,158.70L736.74,164.10Z" fill="#24b3bf"/>
<path d="M750.35,160.80L755.21,158.10L755.21,163.50Z" fill="#24b3bf"/>
<path d="M768.83,164.10L773.69,161.40L773.69,166.80Z" fill="#24b3bf"/>
<path d="M787.30,154.40L792.16,151.70L792.16,157.10Z" fill="#24b3bf"/>
<polyline points="586.80,189.60 605.27,192.60 623.75,191.80 642.22,190.40 660.69,190.40 679.16,189.10 697.64,189.60 716.11,189.10 734.58,186.40 753.05,183.70 771.53,177.50 790.00,169.40" fill="none" stroke="#f2d024" stroke-width="1.1" stroke-linejoin="round"/>
<rect x="584.60" y="187.40" width="4.40" height="4.40" fill="#f2d024"/>
<rect x="603.07" y="190.40" width="4.40" height="4.40" fill="#f2d024"/>
<rect x="621.55" y="189.60" width="4.40" height="4.40" fill="#f2d024"/>
<rect x="640.02" y="188.20" width="4.40" height="4.40" fill="#f2d024"/>
<rect x="658.49" y="188.20" width="4.40" height="4.40" fill="#f2d024"/>
<rect x="676.96" y="186.90" width="4.40" height="4.40" fill="#f2d024"/>
<rect x="695.44" y="187.40" width="4.40" height="4.40" fill="#f2d024"/>
<rect x="713.91" y="186.90" width="4.40" height="4.40" fill="#f2d024"/>
<rect x="732.38" y="184.20" width="4.40" height="4.40" fill="#f2d024"/>
<rect x="750.85" y="181.50" width="4.40" height="4.40" fill="#f2d024"/>
<rect x="769.33" y="175.30" width="4.40" height="4.40" fill="#f2d024"/>
<rect x="787.80" y="167.20" width="4.40" height="4.40" fill="#f2d024"/>
<polyline points="586.80,133.90 605.27,142.80 623.75,154.90 642.22,157.10 660.69,147.90 679.16,156.00 697.64,150.10 716.11,154.90 734.58,150.90 753.05,151.90 771.53,154.90 790.00,151.90" fill="none" stroke="#e39a80" stroke-width="1.1" stroke-linejoin="round"/>
<path d="M585.00,133.90H588.60M586.80,132.10V135.70" stroke="#e39a80" stroke-width="1.4"/>
<path d="M603.47,142.80H607.07M605.27,141.00V144.60" stroke="#e39a80" stroke-width="1.4"/>
<path d="M621.95,154.90H625.55M623.75,153.10V156.70" stroke="#e39a80" stroke-width="1.4"/>
<path d="M640.42,157.10H644.02M642.22,155.30V158.90" stroke="#e39a80" stroke-width="1.4"/>
<path d="M658.89,147.90H662.49M660.69,146.10V149.70" stroke="#e39a80" stroke-width="1.4"/>
<path d="M677.36,156.00H680.96M679.16,154.20V157.80" stroke="#e39a80" stroke-width="1.4"/>
<path d="M695.84,150.10H699.44M697.64,148.30V151.90" stroke="#e39a80" stroke-width="1.4"/>
<path d="M714.31,154.90H717.91M716.11,153.10V156.70" stroke="#e39a80" stroke-width="1.4"/>
<path d="M732.78,150.90H736.38M734.58,149.10V152.70" stroke="#e39a80" stroke-width="1.4"/>
<path d="M751.25,151.90H754.85M753.05,150.10V153.70" stroke="#e39a80" stroke-width="1.4"/>
<path d="M769.73,154.90H773.33M771.53,153.10V156.70" stroke="#e39a80" stroke-width="1.4"/>
<path d="M788.20,151.90H791.80M790.00,150.10V153.70" stroke="#e39a80" stroke-width="1.4"/>
<polyline points="586.80,183.20 605.27,192.60 623.75,193.10 642.22,193.70 660.69,193.10 679.16,192.60 697.64,192.60 716.11,192.60 734.58,191.80 753.05,193.10 771.53,191.80 790.00,191.80" fill="none" stroke="#9a2a2a" stroke-width="1.1" stroke-linejoin="round"/>
<path d="M586.80,180.40L589.18,183.20L586.80,186.00L584.42,183.20Z" fill="#9a2a2a"/>
<path d="M605.27,189.80L607.65,192.60L605.27,195.40L602.89,192.60Z" fill="#9a2a2a"/>
<path d="M623.75,190.30L626.13,193.10L623.75,195.90L621.37,193.10Z" fill="#9a2a2a"/>
<path d="M642.22,190.90L644.60,193.70L642.22,196.50L639.84,193.70Z" fill="#9a2a2a"/>
<path d="M660.69,190.30L663.07,193.10L660.69,195.90L658.31,193.10Z" fill="#9a2a2a"/>
<path d="M679.16,189.80L681.54,192.60L679.16,195.40L676.78,192.60Z" fill="#9a2a2a"/>
<path d="M697.64,189.80L700.02,192.60L697.64,195.40L695.26,192.60Z" fill="#9a2a2a"/>
<path d="M716.11,189.80L718.49,192.60L716.11,195.40L713.73,192.60Z" fill="#9a2a2a"/>
<path d="M734.58,189.00L736.96,191.80L734.58,194.60L732.20,191.80Z" fill="#9a2a2a"/>
<path d="M753.05,190.30L755.43,193.10L753.05,195.90L750.67,193.10Z" fill="#9a2a2a"/>
<path d="M771.53,189.00L773.91,191.80L771.53,194.60L769.15,191.80Z" fill="#9a2a2a"/>
<path d="M790.00,189.00L792.38,191.80L790.00,194.60L787.62,191.80Z" fill="#9a2a2a"/>
<rect x="576.5" y="34.4" width="223.70" height="166.80" fill="none" stroke="#3a3a3a" stroke-width="0.9"/>
<line x1="586.80" y1="201.2" x2="586.80" y2="203.39999999999998" stroke="#3a3a3a" stroke-width="0.8"/>
<text x="586.80" y="211.80" text-anchor="middle" class="tk">24</text>
<line x1="605.27" y1="201.2" x2="605.27" y2="203.39999999999998" stroke="#3a3a3a" stroke-width="0.8"/>
<text x="605.27" y="211.80" text-anchor="middle" class="tk">48</text>
<line x1="623.75" y1="201.2" x2="623.75" y2="203.39999999999998" stroke="#3a3a3a" stroke-width="0.8"/>
<text x="623.75" y="211.80" text-anchor="middle" class="tk">72</text>
<line x1="642.22" y1="201.2" x2="642.22" y2="203.39999999999998" stroke="#3a3a3a" stroke-width="0.8"/>
<text x="642.22" y="211.80" text-anchor="middle" class="tk">96</text>
<line x1="660.69" y1="201.2" x2="660.69" y2="203.39999999999998" stroke="#3a3a3a" stroke-width="0.8"/>
<text x="660.69" y="211.80" text-anchor="middle" class="tk">120</text>
<line x1="679.16" y1="201.2" x2="679.16" y2="203.39999999999998" stroke="#3a3a3a" stroke-width="0.8"/>
<text x="679.16" y="211.80" text-anchor="middle" class="tk">144</text>
<line x1="697.64" y1="201.2" x2="697.64" y2="203.39999999999998" stroke="#3a3a3a" stroke-width="0.8"/>
<text x="697.64" y="211.80" text-anchor="middle" class="tk">168</text>
<line x1="716.11" y1="201.2" x2="716.11" y2="203.39999999999998" stroke="#3a3a3a" stroke-width="0.8"/>
<text x="716.11" y="211.80" text-anchor="middle" class="tk">192</text>
<line x1="734.58" y1="201.2" x2="734.58" y2="203.39999999999998" stroke="#3a3a3a" stroke-width="0.8"/>
<text x="734.58" y="211.80" text-anchor="middle" class="tk">336</text>
<line x1="753.05" y1="201.2" x2="753.05" y2="203.39999999999998" stroke="#3a3a3a" stroke-width="0.8"/>
<text x="753.05" y="211.80" text-anchor="middle" class="tk">504</text>
<line x1="771.53" y1="201.2" x2="771.53" y2="203.39999999999998" stroke="#3a3a3a" stroke-width="0.8"/>
<text x="771.53" y="211.80" text-anchor="middle" class="tk">672</text>
<line x1="790.00" y1="201.2" x2="790.00" y2="203.39999999999998" stroke="#3a3a3a" stroke-width="0.8"/>
<text x="790.00" y="211.80" text-anchor="middle" class="tk">720</text>
<line x1="574.3" y1="195.4" x2="576.5" y2="195.4" stroke="#3a3a3a" stroke-width="0.8"/>
<text x="573.20" y="198.40" text-anchor="end" class="tk">0.3</text>
<line x1="574.3" y1="174.3" x2="576.5" y2="174.3" stroke="#3a3a3a" stroke-width="0.8"/>
<text x="573.20" y="177.30" text-anchor="end" class="tk">0.4</text>
<line x1="574.3" y1="153.0" x2="576.5" y2="153.0" stroke="#3a3a3a" stroke-width="0.8"/>
<text x="573.20" y="156.00" text-anchor="end" class="tk">0.5</text>
<line x1="574.3" y1="131.9" x2="576.5" y2="131.9" stroke="#3a3a3a" stroke-width="0.8"/>
<text x="573.20" y="134.90" text-anchor="end" class="tk">0.6</text>
<line x1="574.3" y1="110.0" x2="576.5" y2="110.0" stroke="#3a3a3a" stroke-width="0.8"/>
<text x="573.20" y="113.00" text-anchor="end" class="tk">0.7</text>
<line x1="574.3" y1="88.9" x2="576.5" y2="88.9" stroke="#3a3a3a" stroke-width="0.8"/>
<text x="573.20" y="91.90" text-anchor="end" class="tk">0.8</text>
<line x1="574.3" y1="67.6" x2="576.5" y2="67.6" stroke="#3a3a3a" stroke-width="0.8"/>
<text x="573.20" y="70.60" text-anchor="end" class="tk">0.9</text>
<line x1="574.3" y1="45.8" x2="576.5" y2="45.8" stroke="#3a3a3a" stroke-width="0.8"/>
<text x="573.20" y="48.80" text-anchor="end" class="tk">1.0</text>
<line x1="560.50" y1="14.7" x2="577.50" y2="14.7" stroke="#9c1fb0" stroke-width="1.1"/>
<circle cx="569.00" cy="14.70" r="2.20" fill="#9c1fb0"/>
<text x="584.20" y="17.70" class="lg">Transformer</text>
<line x1="648.70" y1="14.7" x2="665.70" y2="14.7" stroke="#24b3bf" stroke-width="1.1"/>
<path d="M654.50,14.70L659.36,12.00L659.36,17.40Z" fill="#24b3bf"/>
<text x="672.00" y="17.70" class="lg">Autoformer</text>
<line x1="733.90" y1="14.7" x2="751.00" y2="14.7" stroke="#e39a80" stroke-width="1.1"/>
<path d="M740.65,14.70H744.25M742.45,12.90V16.50" stroke="#e39a80" stroke-width="1.4"/>
<text x="757.30" y="17.70" class="lg">Pyraformer</text>
<line x1="560.50" y1="26.7" x2="577.50" y2="26.7" stroke="#191970" stroke-width="1.1"/>
<path d="M566.30,24.54L571.70,24.54L569.00,29.40Z" fill="#191970"/>
<text x="584.20" y="29.70" class="lg">Informer</text>
<line x1="648.70" y1="26.7" x2="665.70" y2="26.7" stroke="#f2d024" stroke-width="1.1"/>
<rect x="655.00" y="24.50" width="4.40" height="4.40" fill="#f2d024"/>
<text x="672.00" y="29.70" class="lg">FEDformer</text>
<line x1="733.90" y1="26.7" x2="751.00" y2="26.7" stroke="#9a2a2a" stroke-width="1.1"/>
<path d="M742.45,23.90L744.83,26.70L742.45,29.50L740.07,26.70Z" fill="#9a2a2a"/>
<text x="757.30" y="29.70" class="lg">DLinear</text>
<line x1="851.80" y1="34.4" x2="851.80" y2="201.2" stroke="#dcdcdc" stroke-width="0.8" stroke-dasharray="2,1.2"/>
<line x1="870.27" y1="34.4" x2="870.27" y2="201.2" stroke="#dcdcdc" stroke-width="0.8" stroke-dasharray="2,1.2"/>
<line x1="888.75" y1="34.4" x2="888.75" y2="201.2" stroke="#dcdcdc" stroke-width="0.8" stroke-dasharray="2,1.2"/>
<line x1="907.22" y1="34.4" x2="907.22" y2="201.2" stroke="#dcdcdc" stroke-width="0.8" stroke-dasharray="2,1.2"/>
<line x1="925.69" y1="34.4" x2="925.69" y2="201.2" stroke="#dcdcdc" stroke-width="0.8" stroke-dasharray="2,1.2"/>
<line x1="944.16" y1="34.4" x2="944.16" y2="201.2" stroke="#dcdcdc" stroke-width="0.8" stroke-dasharray="2,1.2"/>
<line x1="962.64" y1="34.4" x2="962.64" y2="201.2" stroke="#dcdcdc" stroke-width="0.8" stroke-dasharray="2,1.2"/>
<line x1="981.11" y1="34.4" x2="981.11" y2="201.2" stroke="#dcdcdc" stroke-width="0.8" stroke-dasharray="2,1.2"/>
<line x1="999.58" y1="34.4" x2="999.58" y2="201.2" stroke="#dcdcdc" stroke-width="0.8" stroke-dasharray="2,1.2"/>
<line x1="1018.05" y1="34.4" x2="1018.05" y2="201.2" stroke="#dcdcdc" stroke-width="0.8" stroke-dasharray="2,1.2"/>
<line x1="1036.53" y1="34.4" x2="1036.53" y2="201.2" stroke="#dcdcdc" stroke-width="0.8" stroke-dasharray="2,1.2"/>
<line x1="1055.00" y1="34.4" x2="1055.00" y2="201.2" stroke="#dcdcdc" stroke-width="0.8" stroke-dasharray="2,1.2"/>
<polyline points="851.80,155.40 870.27,138.80 888.75,87.80 907.22,113.40 925.69,134.50 944.16,103.40 962.64,104.50 981.11,117.80 999.58,165.70 1018.05,150.60 1036.53,103.40 1055.00,136.60" fill="none" stroke="#9c1fb0" stroke-width="1.1" stroke-linejoin="round"/>
<circle cx="851.80" cy="155.40" r="2.20" fill="#9c1fb0"/>
<circle cx="870.27" cy="138.80" r="2.20" fill="#9c1fb0"/>
<circle cx="888.75" cy="87.80" r="2.20" fill="#9c1fb0"/>
<circle cx="907.22" cy="113.40" r="2.20" fill="#9c1fb0"/>
<circle cx="925.69" cy="134.50" r="2.20" fill="#9c1fb0"/>
<circle cx="944.16" cy="103.40" r="2.20" fill="#9c1fb0"/>
<circle cx="962.64" cy="104.50" r="2.20" fill="#9c1fb0"/>
<circle cx="981.11" cy="117.80" r="2.20" fill="#9c1fb0"/>
<circle cx="999.58" cy="165.70" r="2.20" fill="#9c1fb0"/>
<circle cx="1018.05" cy="150.60" r="2.20" fill="#9c1fb0"/>
<circle cx="1036.53" cy="103.40" r="2.20" fill="#9c1fb0"/>
<circle cx="1055.00" cy="136.60" r="2.20" fill="#9c1fb0"/>
<polyline points="851.80,177.00 870.27,136.60 888.75,62.30 907.22,112.90 925.69,83.80 944.16,85.10 962.64,129.90 981.11,93.20 999.58,96.70 1018.05,91.10 1036.53,41.50 1055.00,43.40" fill="none" stroke="#191970" stroke-width="1.1" stroke-linejoin="round"/>
<path d="M849.10,174.84L854.50,174.84L851.80,179.70Z" fill="#191970"/>
<path d="M867.57,134.44L872.97,134.44L870.27,139.30Z" fill="#191970"/>
<path d="M886.05,60.14L891.45,60.14L888.75,65.00Z" fill="#191970"/>
<path d="M904.52,110.74L909.92,110.74L907.22,115.60Z" fill="#191970"/>
<path d="M922.99,81.64L928.39,81.64L925.69,86.50Z" fill="#191970"/>
<path d="M941.46,82.94L946.86,82.94L944.16,87.80Z" fill="#191970"/>
<path d="M959.94,127.74L965.34,127.74L962.64,132.60Z" fill="#191970"/>
<path d="M978.41,91.04L983.81,91.04L981.11,95.90Z" fill="#191970"/>
<path d="M996.88,94.54L1002.28,94.54L999.58,99.40Z" fill="#191970"/>
<path d="M1015.35,88.94L1020.75,88.94L1018.05,93.80Z" fill="#191970"/>
<path d="M1033.83,39.34L1039.23,39.34L1036.53,44.20Z" fill="#191970"/>
<path d="M1052.30,41.24L1057.70,41.24L1055.00,46.10Z" fill="#191970"/>
<polyline points="851.80,187.70 870.27,184.50 888.75,182.40 907.22,181.00 925.69,180.20 944.16,179.70 962.64,175.60 981.11,174.80 999.58,173.70 1018.05,170.20 1036.53,171.10 1055.00,168.40" fill="none" stroke="#24b3bf" stroke-width="1.1" stroke-linejoin="round"/>
<path d="M849.10,187.70L853.96,185.00L853.96,190.40Z" fill="#24b3bf"/>
<path d="M867.57,184.50L872.43,181.80L872.43,187.20Z" fill="#24b3bf"/>
<path d="M886.05,182.40L890.91,179.70L890.91,185.10Z" fill="#24b3bf"/>
<path d="M904.52,181.00L909.38,178.30L909.38,183.70Z" fill="#24b3bf"/>
<path d="M922.99,180.20L927.85,177.50L927.85,182.90Z" fill="#24b3bf"/>
<path d="M941.46,179.70L946.32,177.00L946.32,182.40Z" fill="#24b3bf"/>
<path d="M959.94,175.60L964.80,172.90L964.80,178.30Z" fill="#24b3bf"/>
<path d="M978.41,174.80L983.27,172.10L983.27,177.50Z" fill="#24b3bf"/>
<path d="M996.88,173.70L1001.74,171.00L1001.74,176.40Z" fill="#24b3bf"/>
<path d="M1015.35,170.20L1020.21,167.50L1020.21,172.90Z" fill="#24b3bf"/>
<path d="M1033.83,171.10L1038.69,168.40L1038.69,173.80Z" fill="#24b3bf"/>
<path d="M1052.30,168.40L1057.16,165.70L1057.16,171.10Z" fill="#24b3bf"/>
<polyline points="851.80,191.00 870.27,189.10 888.75,187.70 907.22,185.90 925.69,184.20 944.16,182.90 962.64,181.00 981.11,178.30 999.58,171.10 1018.05,170.20 1036.53,167.60 1055.00,166.20" fill="none" stroke="#f2d024" stroke-width="1.1" stroke-linejoin="round"/>
<rect x="849.60" y="188.80" width="4.40" height="4.40" fill="#f2d024"/>
<rect x="868.07" y="186.90" width="4.40" height="4.40" fill="#f2d024"/>
<rect x="886.55" y="185.50" width="4.40" height="4.40" fill="#f2d024"/>
<rect x="905.02" y="183.70" width="4.40" height="4.40" fill="#f2d024"/>
<rect x="923.49" y="182.00" width="4.40" height="4.40" fill="#f2d024"/>
<rect x="941.96" y="180.70" width="4.40" height="4.40" fill="#f2d024"/>
<rect x="960.44" y="178.80" width="4.40" height="4.40" fill="#f2d024"/>
<rect x="978.91" y="176.10" width="4.40" height="4.40" fill="#f2d024"/>
<rect x="997.38" y="168.90" width="4.40" height="4.40" fill="#f2d024"/>
<rect x="1015.85" y="168.00" width="4.40" height="4.40" fill="#f2d024"/>
<rect x="1034.33" y="165.40" width="4.40" height="4.40" fill="#f2d024"/>
<rect x="1052.80" y="164.00" width="4.40" height="4.40" fill="#f2d024"/>
<polyline points="851.80,140.90 870.27,139.30 888.75,151.90 907.22,151.90 925.69,152.80 944.16,149.50 962.64,152.80 981.11,148.70 999.58,151.90 1018.05,150.10 1036.53,146.00 1055.00,151.40" fill="none" stroke="#e39a80" stroke-width="1.1" stroke-linejoin="round"/>
<path d="M850.00,140.90H853.60M851.80,139.10V142.70" stroke="#e39a80" stroke-width="1.4"/>
<path d="M868.47,139.30H872.07M870.27,137.50V141.10" stroke="#e39a80" stroke-width="1.4"/>
<path d="M886.95,151.90H890.55M888.75,150.10V153.70" stroke="#e39a80" stroke-width="1.4"/>
<path d="M905.42,151.90H909.02M907.22,150.10V153.70" stroke="#e39a80" stroke-width="1.4"/>
<path d="M923.89,152.80H927.49M925.69,151.00V154.60" stroke="#e39a80" stroke-width="1.4"/>
<path d="M942.36,149.50H945.96M944.16,147.70V151.30" stroke="#e39a80" stroke-width="1.4"/>
<path d="M960.84,152.80H964.44M962.64,151.00V154.60" stroke="#e39a80" stroke-width="1.4"/>
<path d="M979.31,148.70H982.91M981.11,146.90V150.50" stroke="#e39a80" stroke-width="1.4"/>
<path d="M997.78,151.90H1001.38M999.58,150.10V153.70" stroke="#e39a80" stroke-width="1.4"/>
<path d="M1016.25,150.10H1019.85M1018.05,148.30V151.90" stroke="#e39a80" stroke-width="1.4"/>
<path d="M1034.73,146.00H1038.33M1036.53,144.20V147.80" stroke="#e39a80" stroke-width="1.4"/>
<path d="M1053.20,151.40H1056.80M1055.00,149.60V153.20" stroke="#e39a80" stroke-width="1.4"/>
<polyline points="851.80,189.10 870.27,191.20 888.75,193.10 907.22,193.10 925.69,193.70 944.16,193.10 962.64,193.10 981.11,193.10 999.58,193.70 1018.05,192.60 1036.53,193.70 1055.00,193.70" fill="none" stroke="#9a2a2a" stroke-width="1.1" stroke-linejoin="round"/>
<path d="M851.80,186.30L854.18,189.10L851.80,191.90L849.42,189.10Z" fill="#9a2a2a"/>
<path d="M870.27,188.40L872.65,191.20L870.27,194.00L867.89,191.20Z" fill="#9a2a2a"/>
<path d="M888.75,190.30L891.13,193.10L888.75,195.90L886.37,193.10Z" fill="#9a2a2a"/>
<path d="M907.22,190.30L909.60,193.10L907.22,195.90L904.84,193.10Z" fill="#9a2a2a"/>
<path d="M925.69,190.90L928.07,193.70L925.69,196.50L923.31,193.70Z" fill="#9a2a2a"/>
<path d="M944.16,190.30L946.54,193.10L944.16,195.90L941.78,193.10Z" fill="#9a2a2a"/>
<path d="M962.64,190.30L965.02,193.10L962.64,195.90L960.26,193.10Z" fill="#9a2a2a"/>
<path d="M981.11,190.30L983.49,193.10L981.11,195.90L978.73,193.10Z" fill="#9a2a2a"/>
<path d="M999.58,190.90L1001.96,193.70L999.58,196.50L997.20,193.70Z" fill="#9a2a2a"/>
<path d="M1018.05,189.80L1020.43,192.60L1018.05,195.40L1015.67,192.60Z" fill="#9a2a2a"/>
<path d="M1036.53,190.90L1038.91,193.70L1036.53,196.50L1034.15,193.70Z" fill="#9a2a2a"/>
<path d="M1055.00,190.90L1057.38,193.70L1055.00,196.50L1052.62,193.70Z" fill="#9a2a2a"/>
<rect x="841.3" y="34.4" width="223.80" height="166.80" fill="none" stroke="#3a3a3a" stroke-width="0.9"/>
<line x1="851.80" y1="201.2" x2="851.80" y2="203.39999999999998" stroke="#3a3a3a" stroke-width="0.8"/>
<text x="851.80" y="211.80" text-anchor="middle" class="tk">24</text>
<line x1="870.27" y1="201.2" x2="870.27" y2="203.39999999999998" stroke="#3a3a3a" stroke-width="0.8"/>
<text x="870.27" y="211.80" text-anchor="middle" class="tk">48</text>
<line x1="888.75" y1="201.2" x2="888.75" y2="203.39999999999998" stroke="#3a3a3a" stroke-width="0.8"/>
<text x="888.75" y="211.80" text-anchor="middle" class="tk">72</text>
<line x1="907.22" y1="201.2" x2="907.22" y2="203.39999999999998" stroke="#3a3a3a" stroke-width="0.8"/>
<text x="907.22" y="211.80" text-anchor="middle" class="tk">96</text>
<line x1="925.69" y1="201.2" x2="925.69" y2="203.39999999999998" stroke="#3a3a3a" stroke-width="0.8"/>
<text x="925.69" y="211.80" text-anchor="middle" class="tk">120</text>
<line x1="944.16" y1="201.2" x2="944.16" y2="203.39999999999998" stroke="#3a3a3a" stroke-width="0.8"/>
<text x="944.16" y="211.80" text-anchor="middle" class="tk">144</text>
<line x1="962.64" y1="201.2" x2="962.64" y2="203.39999999999998" stroke="#3a3a3a" stroke-width="0.8"/>
<text x="962.64" y="211.80" text-anchor="middle" class="tk">168</text>
<line x1="981.11" y1="201.2" x2="981.11" y2="203.39999999999998" stroke="#3a3a3a" stroke-width="0.8"/>
<text x="981.11" y="211.80" text-anchor="middle" class="tk">192</text>
<line x1="999.58" y1="201.2" x2="999.58" y2="203.39999999999998" stroke="#3a3a3a" stroke-width="0.8"/>
<text x="999.58" y="211.80" text-anchor="middle" class="tk">336</text>
<line x1="1018.05" y1="201.2" x2="1018.05" y2="203.39999999999998" stroke="#3a3a3a" stroke-width="0.8"/>
<text x="1018.05" y="211.80" text-anchor="middle" class="tk">504</text>
<line x1="1036.53" y1="201.2" x2="1036.53" y2="203.39999999999998" stroke="#3a3a3a" stroke-width="0.8"/>
<text x="1036.53" y="211.80" text-anchor="middle" class="tk">672</text>
<line x1="1055.00" y1="201.2" x2="1055.00" y2="203.39999999999998" stroke="#3a3a3a" stroke-width="0.8"/>
<text x="1055.00" y="211.80" text-anchor="middle" class="tk">720</text>
<line x1="839.0999999999999" y1="189.3" x2="841.3" y2="189.3" stroke="#3a3a3a" stroke-width="0.8"/>
<text x="838.00" y="192.30" text-anchor="end" class="tk">0.2</text>
<line x1="839.0999999999999" y1="162.6" x2="841.3" y2="162.6" stroke="#3a3a3a" stroke-width="0.8"/>
<text x="838.00" y="165.60" text-anchor="end" class="tk">0.4</text>
<line x1="839.0999999999999" y1="135.9" x2="841.3" y2="135.9" stroke="#3a3a3a" stroke-width="0.8"/>
<text x="838.00" y="138.90" text-anchor="end" class="tk">0.6</text>
<line x1="839.0999999999999" y1="109.3" x2="841.3" y2="109.3" stroke="#3a3a3a" stroke-width="0.8"/>
<text x="838.00" y="112.30" text-anchor="end" class="tk">0.8</text>
<line x1="839.0999999999999" y1="82.6" x2="841.3" y2="82.6" stroke="#3a3a3a" stroke-width="0.8"/>
<text x="838.00" y="85.60" text-anchor="end" class="tk">1.0</text>
<line x1="839.0999999999999" y1="56.0" x2="841.3" y2="56.0" stroke="#3a3a3a" stroke-width="0.8"/>
<text x="838.00" y="59.00" text-anchor="end" class="tk">1.2</text>
<line x1="825.30" y1="14.7" x2="842.30" y2="14.7" stroke="#9c1fb0" stroke-width="1.1"/>
<circle cx="833.80" cy="14.70" r="2.20" fill="#9c1fb0"/>
<text x="849.00" y="17.70" class="lg">Transformer</text>
<line x1="913.50" y1="14.7" x2="930.50" y2="14.7" stroke="#24b3bf" stroke-width="1.1"/>
<path d="M919.30,14.70L924.16,12.00L924.16,17.40Z" fill="#24b3bf"/>
<text x="936.80" y="17.70" class="lg">Autoformer</text>
<line x1="998.70" y1="14.7" x2="1015.80" y2="14.7" stroke="#e39a80" stroke-width="1.1"/>
<path d="M1005.45,14.70H1009.05M1007.25,12.90V16.50" stroke="#e39a80" stroke-width="1.4"/>
<text x="1022.10" y="17.70" class="lg">Pyraformer</text>
<line x1="825.30" y1="26.7" x2="842.30" y2="26.7" stroke="#191970" stroke-width="1.1"/>
<path d="M831.10,24.54L836.50,24.54L833.80,29.40Z" fill="#191970"/>
<text x="849.00" y="29.70" class="lg">Informer</text>
<line x1="913.50" y1="26.7" x2="930.50" y2="26.7" stroke="#f2d024" stroke-width="1.1"/>
<rect x="919.80" y="24.50" width="4.40" height="4.40" fill="#f2d024"/>
<text x="936.80" y="29.70" class="lg">FEDformer</text>
<line x1="998.70" y1="26.7" x2="1015.80" y2="26.7" stroke="#9a2a2a" stroke-width="1.1"/>
<path d="M1007.25,23.90L1009.63,26.70L1007.25,29.50L1004.87,26.70Z" fill="#9a2a2a"/>
<text x="1022.10" y="29.70" class="lg">DLinear</text>
<text x="38.66" y="244.0" class="sc">(a)</text>
<text x="73.00" y="244.0" class="sc b">720</text>
<text x="115.90" y="244.0" class="sc">steps-</text>
<text x="171.90" y="244.0" class="sc b">Traffic</text>
<text x="281.80" y="244.0" class="sc">(b)</text>
<text x="317.50" y="244.0" class="sc b">720</text>
<text x="360.80" y="244.0" class="sc">steps-</text>
<text x="416.10" y="244.0" class="sc b">Electricity</text>
<text x="580.80" y="244.0" class="sc">(c)</text>
<text x="615.90" y="244.0" class="sc b">24</text>
<text x="646.10" y="244.0" class="sc">steps-</text>
<text x="702.10" y="244.0" class="sc b">ETTh1</text>
<text x="842.70" y="244.0" class="sc">(d)</text>
<text x="879.10" y="244.0" class="sc b">24</text>
<text x="909.10" y="244.0" class="sc">steps-</text>
<text x="966.00" y="244.0" class="sc b">ETTh2</text>
</svg>
<div class="ln j" style="top:260.6px">Figure 5: The MSE results (Y-axis) of models with different look-back window sizes (X-axis) of the</div>
<div class="ln j" style="top:289.5px">Long Forecasting (<b>720</b> time steps) and the Short Forecasting (<b>24</b> time steps) on four datasets. Please</div>
<div class="ln" style="top:318.4px">refer to Fig.</div>
<div class="ln" style="top:318.4px;left:144.6px;width:auto">7</div>
<div class="ln" style="top:318.4px;left:164.6px;width:auto;word-spacing:0.78px">for comparisons on other benchmarks.</div>
<div class="ref"></div>
<svg width="1077" height="353" viewBox="0 0 1077 353" style="position:absolute;left:0;top:0">
<g fill="none" stroke-linecap="round" stroke-linejoin="round">
<path d="M875.40,294.08 L870.36,302.20 M872.04,299.88 L881.56,299.88 M867.56,307.42 L882.68,307.42 M875.96,299.88 L875.40,308.00 L868.68,321.34 M876.52,310.32 L882.12,319.60 M884.92,302.20 L884.92,319.02 L893.88,319.02 L893.88,302.20 L884.92,302.20 M925.64,294.16 L906.04,298.22 M908.28,301.70 L910.52,306.34 M922.28,300.54 L919.48,306.34 M902.12,309.24 L927.88,309.24 M915.56,298.22 L915.56,319.68 L912.20,317.94 " stroke="#fff" stroke-width="6"/>
<path d="M875.40,294.08 L870.36,302.20 M872.04,299.88 L881.56,299.88 M867.56,307.42 L882.68,307.42 M875.96,299.88 L875.40,308.00 L868.68,321.34 M876.52,310.32 L882.12,319.60 M884.92,302.20 L884.92,319.02 L893.88,319.02 L893.88,302.20 L884.92,302.20 M925.64,294.16 L906.04,298.22 M908.28,301.70 L910.52,306.34 M922.28,300.54 L919.48,306.34 M902.12,309.24 L927.88,309.24 M915.56,298.22 L915.56,319.68 L912.20,317.94 " stroke="#bcbcbc" stroke-width="1.8"/>
</g>
<text x="942" y="316" font-family="Liberation Sans, sans-serif" font-size="28" fill="#c4c4c4" stroke="#fff" stroke-width="2.6" paint-order="stroke">@</text>
<text x="974" y="319.8" font-family="Liberation Sans, sans-serif" font-size="22.5" letter-spacing="5.2" fill="#c4c4c4" stroke="#fff" stroke-width="2.6" paint-order="stroke">Lucia</text>
</svg>
</body></html>
